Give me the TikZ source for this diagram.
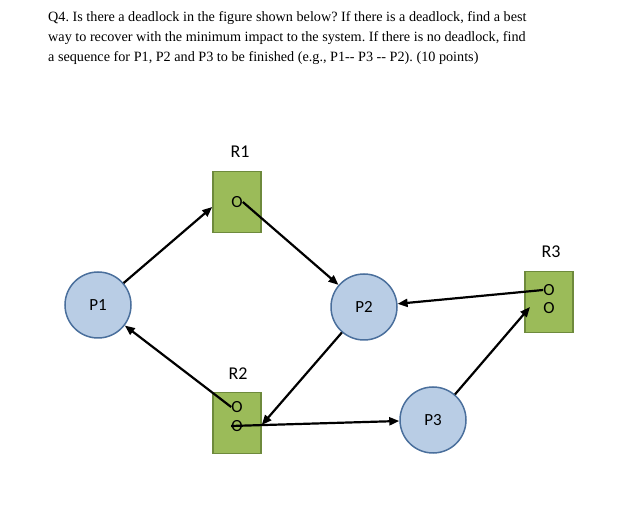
\documentclass[tikz,border=0pt]{standalone}
\usepackage{fontspec}
\setmainfont{Liberation Serif}
\newfontfamily\carfont{Carlito}
\usetikzlibrary{arrows.meta}
\definecolor{boxg}{HTML}{9BBB59}
\definecolor{boxb}{HTML}{6E8A3C}
\definecolor{circf}{HTML}{B9CDE5}
\definecolor{circb}{HTML}{4A6F9C}
\begin{document}
\begin{tikzpicture}[x=1pt,y=-1pt,
 res/.style={draw=boxb,line width=1.5pt,fill=boxg,minimum width=48pt,minimum height=61pt,inner sep=0},
 proc/.style={circle,draw=circb,line width=1.5pt,fill=circf,minimum size=66pt,inner sep=0,font=\carfont\fontsize{17}{19}\selectfont},
 inst/.style={inner sep=0,font=\carfont\fontsize{17}{17}\selectfont},
 lab/.style={font=\carfont\fontsize{18}{19}\selectfont},
 arr/.style={-{Triangle[length=10pt,width=8pt]},line width=2.2pt,black}]
\useasboundingbox (0,0) rectangle (627,518);
\node[anchor=north west,align=left,inner sep=0,font=\frenchspacing\fontsize{14.2}{20}\selectfont] (q) at (48,11) {Q4. Is there a deadlock in the figure shown below? If there is a deadlock, find a best\\ way to recover with the minimum impact to the system. If there is no deadlock, find\\ a sequence for P1, P2 and P3 to be finished (e.g., P1-{}- P3 -{}- P2). (10 points)};
\node[res] (R1) at (237,202) {};
\node[res] (R2) at (237,423) {};
\node[res] (R3) at (549,302) {};
\node[inst] (r1a) at (237,202) {O};
\node[inst] (r2a) at (237,407) {O};
\node[inst] (r2b) at (237,426) {O};
\node[inst] (r3a) at (549,290) {O};
\node[inst] (r3b) at (549,308) {O};
\node[lab] (l1) at (240,152) {R1};
\node[lab] (l2) at (238,374) {R2};
\node[lab] (l3) at (551,252) {R3};
\node[proc] (P1) at (98,305) {P1};
\node[proc] (P2) at (364,307) {P2};
\node[proc] (P3) at (433,420) {P3};
\draw[arr] (P1) -- (R1.west |- 0,207);
\draw[arr] (r1a.east) -- (P2);
\draw[arr] (r3a.west) -- (P2);
\draw[arr] (P3) -- (530,307);
\draw[arr] (P2) -- (R2.east |- 0,425);
\draw[arr] (r2b.west) -- (P3);
\draw[arr] (r2a.west) -- (P1);
\end{tikzpicture}
\end{document}
